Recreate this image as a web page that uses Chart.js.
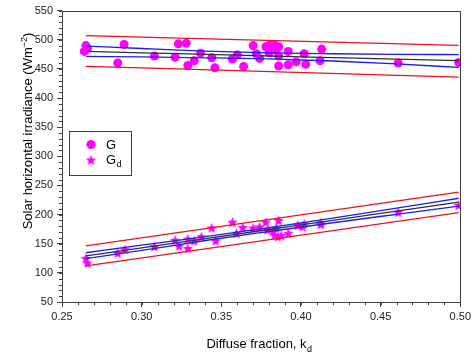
<!DOCTYPE html>
<html><head><meta charset="utf-8">
<script src="https://cdn.jsdelivr.net/npm/chart.js@4.4.0/dist/chart.umd.min.js"></script>
<style>html,body{margin:0;padding:0;background:#fff}#wrap{width:474px;height:357px;position:relative}</style>
</head><body><div id="wrap"><canvas id="c" width="474" height="357"></canvas></div>
<script>
// ---- data ----
const kdG = [0.265,0.266,0.264,0.289,0.285,0.308,0.323,0.328,0.321,0.329,0.333,0.337,0.344,0.346,0.357,0.360,0.364,0.370,0.372,0.374,0.378,0.380,0.383,0.386,0.384,0.380,0.386,0.392,0.386,0.392,0.397,0.402,0.403,0.412,0.413,0.461,0.499];
const G   = [490,485,480,492,460,472,493,494,470,456,464,477,469,452,467,474,454,490,476,468,488,490,492,488,483,478,472,480,455,457,462,476,458,464,484,460,461];
const kdGd = [0.265,0.266,0.285,0.2895,0.308,0.321,0.3235,0.329,0.329,0.333,0.3375,0.344,0.3465,0.357,0.3595,0.3635,0.370,0.374,0.378,0.379,0.3825,0.3845,0.386,0.3835,0.3855,0.3876,0.392,0.398,0.402,0.401,0.4125,0.4125,0.461,0.499];
const Gd   = [125,117,134,140,145,156,146,158,142,155,162,177,155,187,168,178,177,179,187,174,171,177,190,165,162,164,168,182,184,179,183,186,204,216];
const bandX   = [0.265,0.30,0.34,0.38,0.42,0.46,0.499];
const fitG    = [480,477.6,474.9,472.1,469.4,466.7,464];
const confUpG = [489,485,480.5,477.5,476,475,474.5];
const confLoG = [471.5,470.5,469,467,463.5,458.5,452.5];
const fitGd    = [129,142.8,158.6,174.4,190.2,205.9,221.3];
const confUpGd = [134.5,147.5,162,177.5,194,211,228];
const confLoGd = [124.5,138.5,155.5,171,186,200.5,214.5];
const predX    = [0.265,0.499];
const predUpG  = [507,490.4];
const predLoG  = [454.3,436];
const predUpGd = [146.2,238.5];
const predLoGd = [111.9,203.4];
const xTickLabels = ['0.25','0.30','0.35','0.40','0.45','0.50'];
const yTickLabels = ['50','100','150','200','250','300','350','400','450','500','550'];
const legendLabels = ['G','G','d'];

const pts = (xs, ys) => xs.map((x,i)=>({x:x, y:ys[i]}));

// filled five-point star marker
function makeStar(size, color){
  const c = document.createElement('canvas'); c.width=size; c.height=size;
  const g = c.getContext('2d'); const cx=size/2, cy=size/2+0.5, R=size/2, r=R*0.45;
  g.beginPath();
  for(let i=0;i<10;i++){const a=-Math.PI/2+i*Math.PI/5; const rr=i%2?r:R; g.lineTo(cx+rr*Math.cos(a), cy+rr*Math.sin(a));}
  g.closePath(); g.fillStyle=color; g.fill(); return c;
}
const star = makeStar(11,'#ff00ff');

const RED='#e8141c', BLUE='#1c1cf0', BLACK='#303030', MAG='#ff00ff';
const FONT='"Liberation Sans", Arial, sans-serif';
const line = (xs, ys, col) => ({type:'line', data:pts(xs,ys), borderColor:col, borderWidth:1.3, pointRadius:0, fill:false, tension:0.4, cubicInterpolationMode:'monotone'});

const framePlugin = {
  id:'frame',
  afterDraw(chart){
    const {ctx, chartArea:a, scales} = chart;
    ctx.save();
    ctx.strokeStyle='#404040'; ctx.lineWidth=1;
    ctx.strokeRect(Math.round(a.left)+0.5, Math.round(a.top)+0.5, Math.round(a.right-a.left), Math.round(a.bottom-a.top));
    // minor ticks
    ctx.beginPath();
    for(let v=0.25; v<=0.5001; v+=0.01){
      const p = Math.round(scales.x.getPixelForValue(v))+0.5;
      ctx.moveTo(p, Math.round(a.bottom)); ctx.lineTo(p, Math.round(a.bottom)+3);
    }
    for(let v=50; v<=550; v+=10){
      const p = Math.round(scales.y.getPixelForValue(v))+0.5;
      ctx.moveTo(Math.round(a.left)-3, p); ctx.lineTo(Math.round(a.left), p);
    }
    ctx.stroke();
    // axis titles
    ctx.fillStyle='#000';
    ctx.textBaseline='alphabetic';
    ctx.textAlign='left';
    const t1='Diffuse fraction, k';
    ctx.font='13px '+FONT;
    const w1=ctx.measureText(t1).width;
    ctx.font='9px '+FONT;
    const w2=ctx.measureText('d').width;
    let x0 = 259-(w1+w2)/2;
    ctx.font='13px '+FONT;
    ctx.fillText(t1, x0, 348);
    ctx.font='9px '+FONT;
    ctx.fillText('d', x0+w1+0.5, 352);
    // y title
    ctx.save();
    ctx.translate(32,131); ctx.rotate(-Math.PI/2);
    const ya='Solar horizontal irradiance (Wm', yb='\u22122', yc=')';
    ctx.font='13px '+FONT;
    const wa=ctx.measureText(ya).width, wc=ctx.measureText(yc).width;
    ctx.font='9px '+FONT;
    const wb=ctx.measureText(yb).width;
    let s=-(wa+wb+wc)/2;
    ctx.font='13px '+FONT;
    ctx.fillText(ya, s, 0);
    ctx.font='9px '+FONT;
    ctx.fillText(yb, s+wa, -5);
    ctx.font='13px '+FONT;
    ctx.fillText(yc, s+wa+wb, 0);
    ctx.restore();
    // legend
    ctx.strokeStyle='#404040';
    ctx.strokeRect(69.5,131.5,62,44);
    ctx.fillStyle=MAG;
    ctx.beginPath(); ctx.arc(91,144.5,4.5,0,Math.PI*2); ctx.fill();
    ctx.drawImage(star, 85.5, 154.5);
    ctx.fillStyle='#000';
    ctx.font='13px '+FONT;
    ctx.textBaseline='middle';
    ctx.fillText(legendLabels[0], 106, 145);
    ctx.fillText(legendLabels[1], 106, 160);
    const wg=ctx.measureText(legendLabels[1]).width;
    ctx.font='9px '+FONT;
    ctx.fillText(legendLabels[2], 106+wg+0.5, 164.5);
    ctx.restore();
  }
};

new Chart(document.getElementById('c'), {
  type:'scatter',
  data:{datasets:[
    line(bandX, confUpG, BLUE), line(bandX, confLoG, BLUE), line(bandX, fitG, BLACK),
    line(bandX, confUpGd, BLUE), line(bandX, confLoGd, BLUE), line(bandX, fitGd, BLACK),
    line(predX, predUpG, RED), line(predX, predLoG, RED), line(predX, predUpGd, RED), line(predX, predLoGd, RED),
    {label:'G', data:pts(kdG,G), pointStyle:'circle', pointRadius:4.5, backgroundColor:MAG, borderColor:MAG, borderWidth:0},
    {label:'Gd', data:pts(kdGd,Gd), pointStyle:star, pointRadius:5.5, backgroundColor:MAG, borderColor:MAG}
  ]},
  options:{
    responsive:false, animation:false, devicePixelRatio:1,
    layout:{padding:{left:0,right:13,top:10,bottom:0}},
    plugins:{legend:{display:false}, tooltip:{enabled:false}},
    scales:{
      x:{type:'linear', min:0.25, max:0.5,
        afterBuildTicks(s){ s.ticks = xTickLabels.map(v=>({value:parseFloat(v)})); },
        afterFit(s){ s.height=55; },
        ticks:{callback:(v)=>v.toFixed(2), font:{size:11, family:FONT}, color:'#222', padding:3, maxRotation:0, autoSkip:false},
        grid:{drawOnChartArea:false, drawTicks:true, tickLength:5, color:'#404040'},
        border:{display:false}},
      y:{type:'linear', min:50, max:550,
        afterBuildTicks(s){ s.ticks = yTickLabels.map(v=>({value:parseFloat(v)})); },
        afterFit(s){ s.width=62; },
        ticks:{callback:(v)=>String(v), font:{size:11, family:FONT}, color:'#222', padding:4, autoSkip:false},
        grid:{drawOnChartArea:false, drawTicks:true, tickLength:5, color:'#404040'},
        border:{display:false}}
    }
  },
  plugins:[framePlugin]
});
</script>
</body></html>
